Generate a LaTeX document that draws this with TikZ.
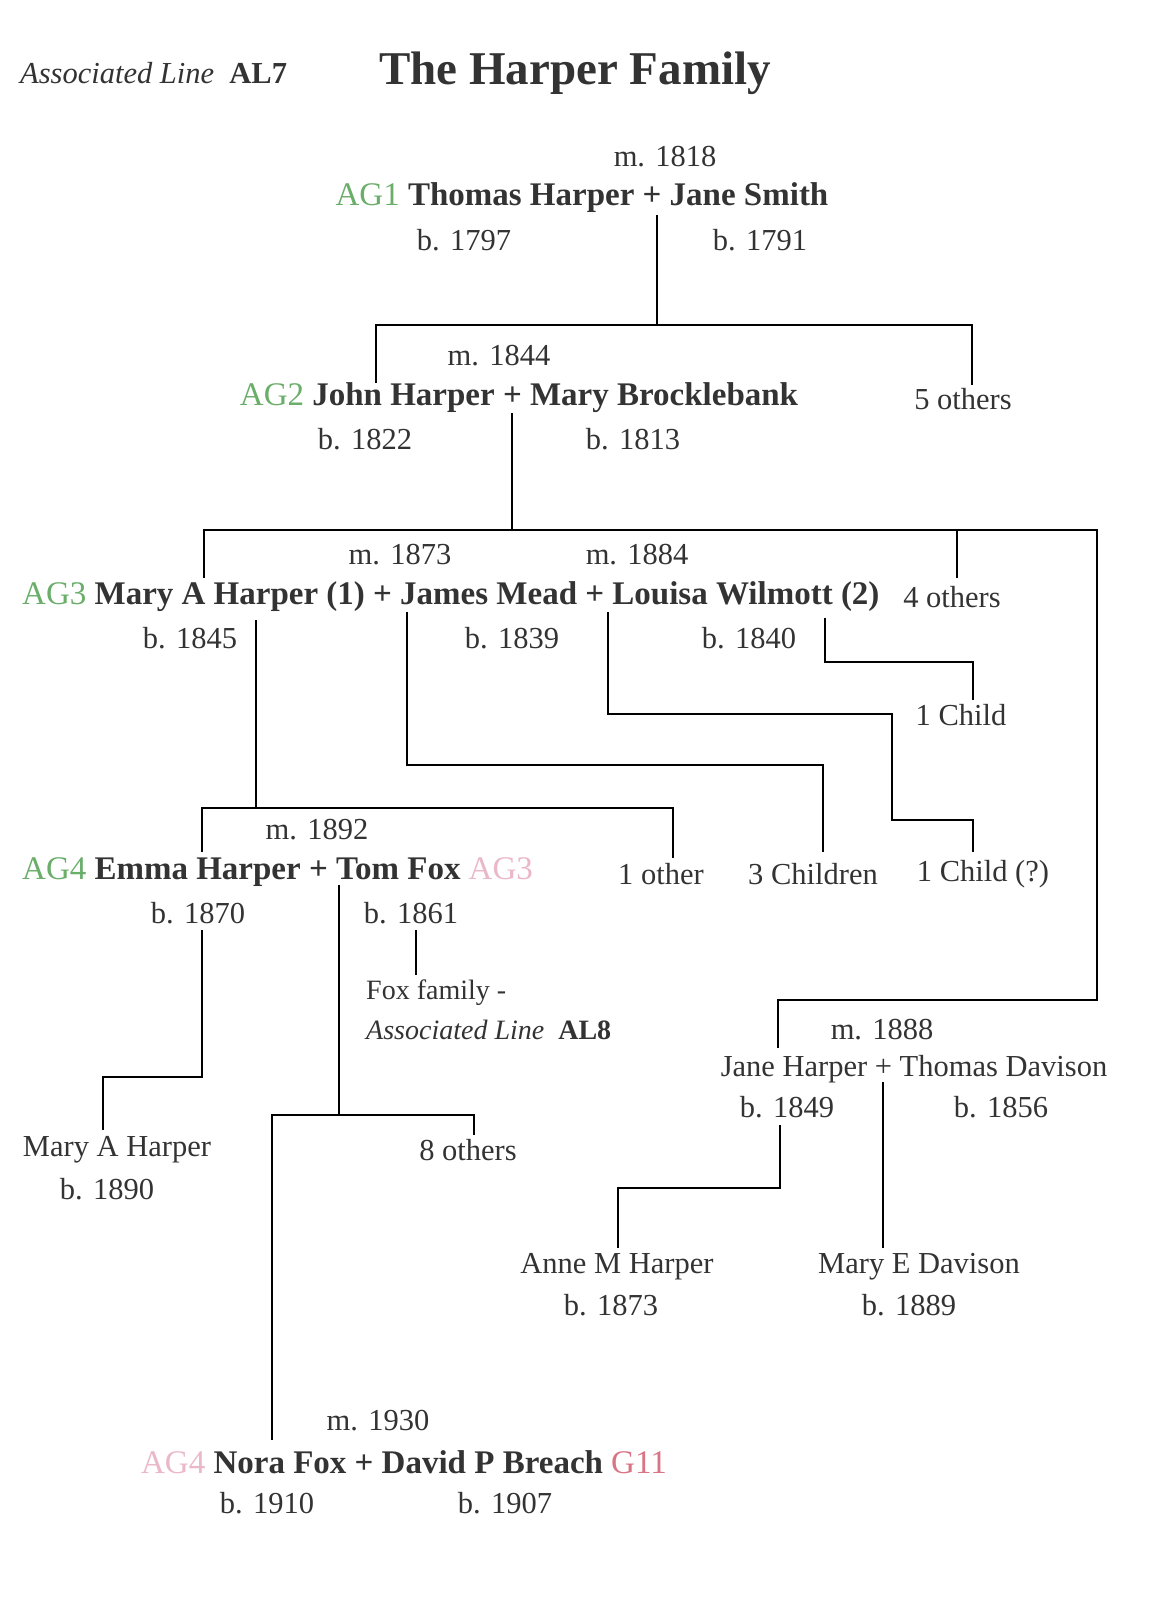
\documentclass[tikz,border=0pt]{standalone}
\usepackage{fontspec}
\setmainfont{Liberation Serif}
\definecolor{txt}{HTML}{333333}
\definecolor{grn}{HTML}{6AAE6A}
\definecolor{pnk}{HTML}{EBB8C8}
\definecolor{red}{HTML}{D87484}
\begin{document}
\begin{tikzpicture}[x=1pt,y=-1pt,
  t/.style={text=txt,font=\fontsize{30.5}{32}\selectfont,inner sep=0pt},
  nm/.style={text=txt,font=\fontsize{33}{35}\selectfont\bfseries,inner sep=0pt},
  sm/.style={text=txt,font=\fontsize{28}{30}\selectfont,inner sep=0pt},
  ln/.style={line width=2pt,black}]
\useasboundingbox[fill=white] (0,0) rectangle (1151,1600);
\node[t,anchor=west] (al7) at (20,73) {\textit{Associated Line}\ \ \textbf{AL7}};
\node[text=txt,font=\fontsize{47}{49}\selectfont\bfseries,inner sep=0pt] (title) at (575,73) {The Harper Family};
% Gen 1
\node[t] (m1) at (665,157) {m. 1818};
\node[nm] (g1) at (582,198) {\textcolor{grn}{\mdseries AG1} Thomas Harper + Jane Smith};
\node[t] (b1a) at (464,240) {b. 1797};
\node[t] (b1b) at (760,240) {b. 1791};
\draw[ln] (657,215) -- (657,325);
\draw[ln] (376,383) -- (376,325) -- (972,325) -- (972,385);
% Gen 2
\node[t] (m2) at (499,356) {m. 1844};
\node[nm] (g2) at (519,398) {\textcolor{grn}{\mdseries AG2} John Harper + Mary Brocklebank};
\node[t] (o5) at (963,399) {5 others};
\node[t] (b2a) at (365,439) {b. 1822};
\node[t] (b2b) at (633,439) {b. 1813};
\draw[ln] (512,413) -- (512,530);
\draw[ln] (204,578) -- (204,530) -- (1097,530) -- (1097,1000) -- (778,1000) -- (778,1048);
\draw[ln] (957,530) -- (957,578);
% Gen 3
\node[t] (m3a) at (400,555) {m. 1873};
\node[t] (m3b) at (637,555) {m. 1884};
\node[nm,anchor=west] (g3) at (22,597) {\textcolor{grn}{\mdseries AG3} Mary A Harper (1) + James Mead + Louisa Wilmott (2)};
\node[t] (o4) at (952,597) {4 others};
\node[t] (b3a) at (190,638) {b. 1845};
\node[t] (b3b) at (512,638) {b. 1839};
\node[t] (b3c) at (749,638) {b. 1840};
\draw[ln] (256,620) -- (256,808);
\draw[ln] (202,852) -- (202,808) -- (673,808) -- (673,858);
\draw[ln] (407,612) -- (407,765) -- (823,765) -- (823,852);
\draw[ln] (608,612) -- (608,714) -- (892,714) -- (892,820) -- (973,820) -- (973,852);
\draw[ln] (825,618) -- (825,662) -- (973,662) -- (973,700);
\node[t] (c1) at (961,715) {1 Child};
% Gen 4
\node[t] (m4) at (317,830) {m. 1892};
\node[nm,anchor=west] (g4) at (22,872) {\textcolor{grn}{\mdseries AG4} Emma Harper + Tom Fox \textcolor{pnk}{\mdseries AG3}};
\node[t] (o1) at (661,874) {1 other};
\node[t] (c3) at (813,874) {3 Children};
\node[t] (c1q) at (983,874) {1 Child (?)};
\node[t] (b4a) at (198,913) {b. 1870};
\node[t] (b4b) at (411,913) {b. 1861};
\draw[ln] (416,930) -- (416,975);
\node[sm,anchor=west] (ff) at (366,993) {Fox family -};
\node[sm,anchor=west] (al8) at (366,1030) {\textit{Associated Line}\ \ \textbf{AL8}};
\draw[ln] (202,930) -- (202,1077) -- (103,1077) -- (103,1130);
\node[t] (ma) at (117,1150) {Mary A Harper};
\node[t] (bma) at (107,1189) {b. 1890};
\draw[ln] (339,885) -- (339,1115);
\draw[ln] (272,1440) -- (272,1115) -- (474,1115) -- (474,1135);
\node[t] (o8) at (468,1150) {8 others};
% Jane
\node[t] (m5) at (882,1030) {m. 1888};
\node[t] (jh) at (914,1069) {Jane Harper + Thomas Davison};
\node[t] (bj) at (787,1107) {b. 1849};
\node[t] (bt) at (1001,1107) {b. 1856};
\draw[ln] (780,1125) -- (780,1188) -- (618,1188) -- (618,1248);
\draw[ln] (883,1082) -- (883,1248);
\node[t] (amh) at (617,1267) {Anne M Harper};
\node[t] (bam) at (611,1305) {b. 1873};
\node[t] (med) at (919,1267) {Mary E Davison};
\node[t] (bme) at (909,1305) {b. 1889};
% Gen 5
\node[t] (m6) at (378,1421) {m. 1930};
\node[nm] (g5) at (404,1462) {\textcolor{pnk}{\mdseries AG4} Nora Fox + David P Breach \textcolor{red}{\mdseries G11}};
\node[t] (b5a) at (267,1503) {b. 1910};
\node[t] (b5b) at (505,1503) {b. 1907};
\end{tikzpicture}
\end{document}
